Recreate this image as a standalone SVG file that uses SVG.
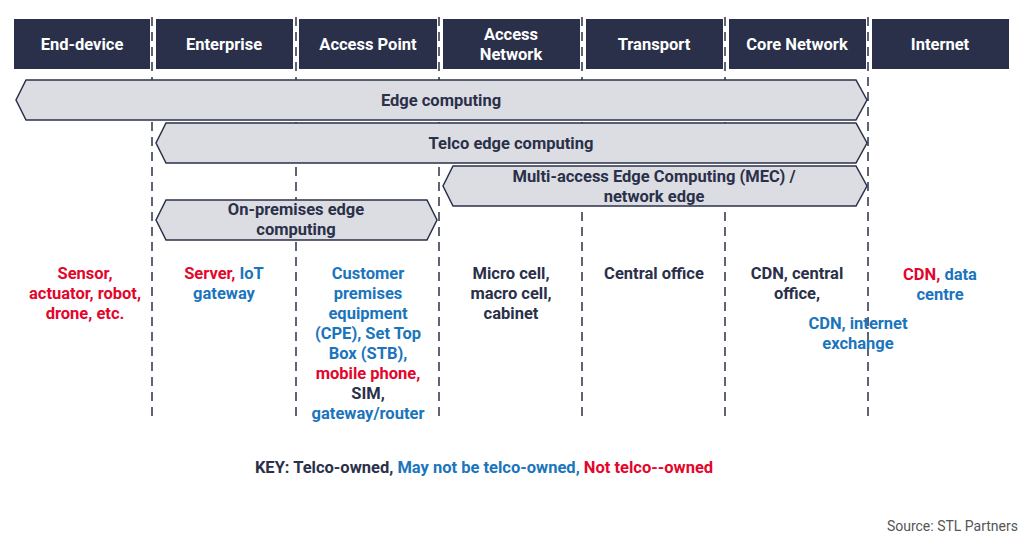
<svg xmlns="http://www.w3.org/2000/svg" width="1024" height="541" viewBox="0 0 1024 541">
<style>
text{font-family:Roboto,"Liberation Sans",sans-serif;font-weight:bold;font-size:16.5px;text-anchor:middle}
.h rect{fill:#2a3049}
.h text{fill:#fff}
.b{fill:#dcdde2;stroke:#2a3049;stroke-width:1.5}
.d{stroke:#2a3049;stroke-width:1.5;stroke-dasharray:9,6;fill:none}
.k{fill:#2a3049}.r{fill:#e3062c}.u{fill:#1b75bc}
</style>
<rect width="1024" height="541" fill="#fff"/>
<g id="connectors">
<path class="d" d="M152,17V420M296,17V420M439,17V420M582,17V420M725,17V420M868,17V420"/>
</g>
<g id="headers" class="h">
<g id="h1"><rect x="14" y="19" width="136" height="50"/><text x="82" y="50">End-device</text></g>
<g id="h2"><rect x="156" y="19" width="137" height="50"/><text x="224" y="50">Enterprise</text></g>
<g id="h3"><rect x="299" y="19" width="138" height="50"/><text x="368" y="50">Access Point</text></g>
<g id="h4"><rect x="443" y="19" width="137" height="50"/><text x="511" y="40">Access</text><text x="511" y="60">Network</text></g>
<g id="h5"><rect x="586" y="19" width="137" height="50"/><text x="654" y="50">Transport</text></g>
<g id="h6"><rect x="729" y="19" width="137" height="50"/><text x="797" y="50">Core Network</text></g>
<g id="h7"><rect x="872" y="19" width="137" height="50"/><text x="940" y="50">Internet</text></g>
</g>
<g id="edge"><polygon class="b" points="26,80 856,80 867,100 856,120 26,120 16,100"/><text class="k" x="441" y="106">Edge computing</text></g>
<g id="telco"><polygon class="b" points="166,123 856,123 867,143 856,163 166,163 156,143"/><text class="k" x="511" y="149">Telco edge computing</text></g>
<g id="mec"><polygon class="b" points="453,166 856,166 867,186 856,206 453,206 443,186"/><text class="k" x="654" y="182">Multi-access Edge Computing (MEC) /</text><text class="k" x="654" y="202">network edge</text></g>
<g id="onprem"><polygon class="b" points="166,200 427,200 437,220 427,240 166,240 156,220"/><text class="k" x="296" y="215">On-premises edge</text><text class="k" x="296" y="235">computing</text></g>
<g id="c1"><text class="r" x="85" y="279">Sensor,</text><text class="r" x="85" y="299">actuator, robot,</text><text class="r" x="85" y="319">drone, etc.</text></g>
<g id="c2"><text x="224" y="279"><tspan class="r">Server, </tspan><tspan class="u">IoT</tspan></text><text class="u" x="224" y="299">gateway</text></g>
<g id="c3"><text class="u" x="368" y="279">Customer</text><text class="u" x="368" y="299">premises</text><text class="u" x="368" y="319">equipment</text><text class="u" x="368" y="339">(CPE), Set Top</text><text class="u" x="368" y="359">Box (STB),</text><text class="r" x="368" y="379">mobile phone,</text><text class="k" x="368" y="399">SIM,</text><text class="u" x="368" y="419">gateway/router</text></g>
<g id="c4"><text class="k" x="511" y="279">Micro cell,</text><text class="k" x="511" y="299">macro cell,</text><text class="k" x="511" y="319">cabinet</text></g>
<g id="c5"><text class="k" x="654" y="279">Central office</text></g>
<g id="c6"><text class="k" x="797" y="279">CDN, central</text><text class="k" x="797" y="299">office,</text><text class="u" x="858" y="329">CDN, internet</text><text class="u" x="858" y="349">exchange</text></g>
<g id="c7"><text x="940" y="280"><tspan class="r">CDN, </tspan><tspan class="u">data</tspan></text><text class="u" x="940" y="300">centre</text></g>
<g id="key"><text x="484" y="473"><tspan class="k">KEY: Telco-owned, </tspan><tspan class="u">May not be telco-owned, </tspan><tspan class="r">Not telco--owned</tspan></text></g>
<text x="1018" y="531" style="font-weight:normal;font-size:14px;text-anchor:end;fill:#555">Source: STL Partners</text>
</svg>
